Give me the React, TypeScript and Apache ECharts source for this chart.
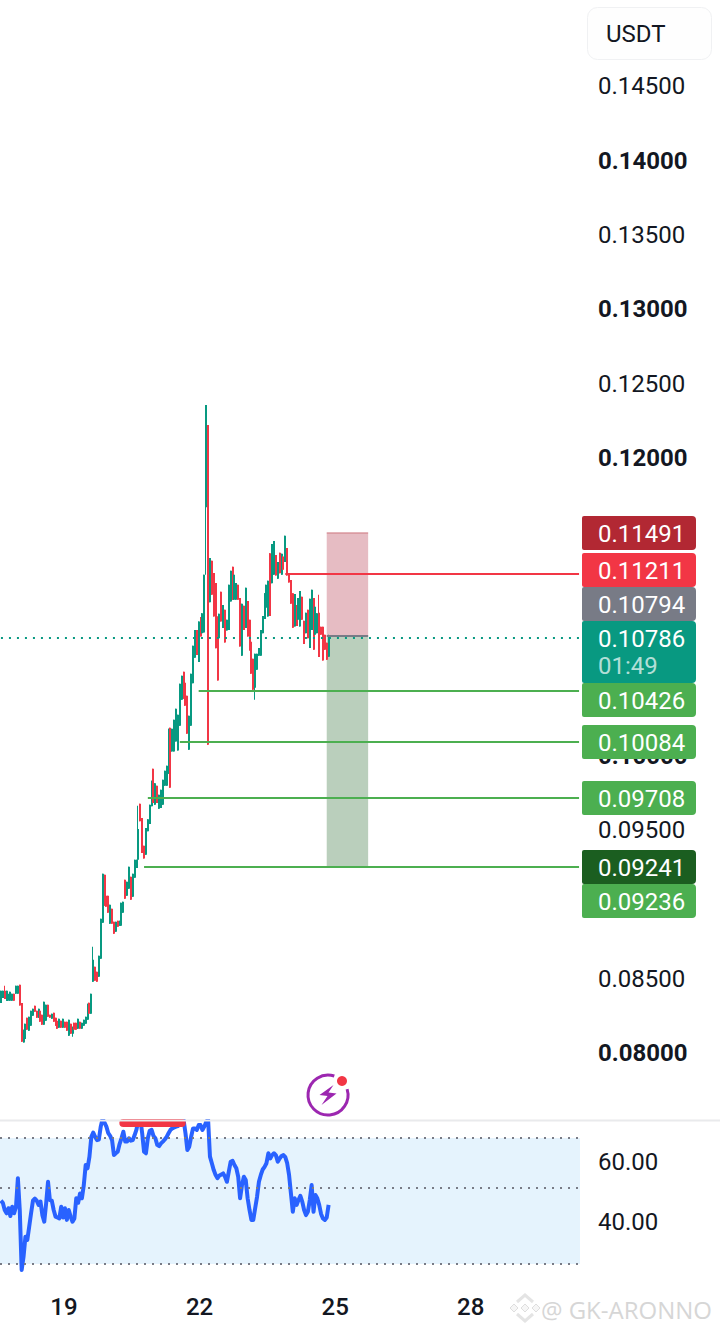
import React, { useEffect, useRef } from "react";
import * as echarts from "echarts";

const TEAL = "#089981";
const RED = "#F23645";
const GREEN = "#4CAF50";
const INK = "#131722";

const slotCount = 308;
const dayLabels: Record<number, string> = { 34: "19", 106: "22", 178: "25", 250: "28" };
const slots = Array.from({ length: slotCount }, (_, i) => String(i));

const candleOpen = [
  0.08336, 0.08369, 0.08419, 0.08351, 0.08351, 0.08351, 0.08351, 0.08398, 0.08398, 0.08398,
  0.08459, 0.08336, 0.08071, 0.08094, 0.08237, 0.0815, 0.08183, 0.08251, 0.08318, 0.08284,
  0.08237, 0.08284, 0.08257, 0.0819, 0.08217, 0.08325, 0.08257, 0.08231, 0.08271, 0.08237,
  0.08217, 0.0817, 0.08217, 0.0817, 0.0821, 0.0821, 0.08116, 0.08197, 0.0813, 0.08204,
  0.08204, 0.08163, 0.0821, 0.08163, 0.08183, 0.08197, 0.08224, 0.08338, 0.08264, 0.08479,
  0.0858, 0.08546, 0.08513, 0.08634, 0.08876, 0.09198, 0.09057, 0.09057, 0.08869, 0.0897,
  0.08882, 0.08815, 0.08889, 0.08855, 0.08855, 0.08943, 0.09165, 0.09057, 0.09104, 0.09185,
  0.0905, 0.09178, 0.09243, 0.09299, 0.09676, 0.09579, 0.09393, 0.09333, 0.0949, 0.09539,
  0.09658, 0.09911, 0.09669, 0.09796, 0.09642, 0.09646, 0.09669, 0.09796, 0.09796, 0.09877,
  0.10186, 0.10027, 0.10027, 0.10094, 0.10034, 0.102, 0.10374, 0.10563, 0.10489, 0.10401,
  0.10038, 0.102, 0.10486, 0.10656, 0.10844, 0.10629, 0.1093, 0.10822, 0.10826, 0.11669,
  0.12222, 0.1103, 0.11308, 0.11227, 0.1116, 0.10934, 0.10788, 0.111, 0.10856, 0.10979,
  0.1084, 0.10844, 0.11035, 0.11268, 0.11046, 0.11046, 0.11147, 0.11059, 0.1067, 0.11006,
  0.10856, 0.11039, 0.10912, 0.10764, 0.1065, 0.10455, 0.10576, 0.1067, 0.1067, 0.10822,
  0.10918, 0.10992, 0.10934, 0.1136, 0.11158, 0.11214, 0.11348, 0.11187, 0.11362, 0.11214,
  0.11337, 0.11301, 0.11395, 0.11225, 0.1118, 0.11091, 0.10867, 0.11012, 0.10912, 0.10867,
  0.11066, 0.10905, 0.10822, 0.10979, 0.10723, 0.10844, 0.11059, 0.10811, 0.10822, 0.10959,
  0.10865, 0.10865, 0.10811, 0.10757, 0.10663,
];
const candleClose = [
  0.08419, 0.08419, 0.08363, 0.08419, 0.08398, 0.08412, 0.08398, 0.08351, 0.08452, 0.08452,
  0.0832, 0.08076, 0.08157, 0.08197, 0.08157, 0.08244, 0.08284, 0.08298, 0.08278, 0.08237,
  0.08298, 0.0821, 0.0819, 0.08345, 0.08325, 0.08244, 0.08237, 0.08264, 0.0821, 0.08183,
  0.08163, 0.08231, 0.0817, 0.08231, 0.0817, 0.0815, 0.08224, 0.0813, 0.08177, 0.08157,
  0.08157, 0.08231, 0.08163, 0.08204, 0.08224, 0.08244, 0.08331, 0.08264, 0.08398, 0.08627,
  0.08486, 0.08479, 0.08654, 0.08903, 0.09205, 0.0899, 0.08983, 0.08943, 0.08997, 0.08869,
  0.08802, 0.08882, 0.08849, 0.08889, 0.0901, 0.09017, 0.09037, 0.09151, 0.09252, 0.0903,
  0.09205, 0.09299, 0.09299, 0.09505, 0.09557, 0.09344, 0.09308, 0.09512, 0.09572, 0.09669,
  0.0983, 0.0968, 0.09814, 0.0968, 0.09736, 0.0977, 0.09837, 0.09897, 0.09931, 0.1018,
  0.09783, 0.1018, 0.1024, 0.10314, 0.10274, 0.10482, 0.10536, 0.10381, 0.10334, 0.10146,
  0.10267, 0.10549, 0.10737, 0.10844, 0.10676, 0.109, 0.108, 0.10956, 0.11214, 0.12356,
  0.10072, 0.11328, 0.1108, 0.10934, 0.10721, 0.10504, 0.10952, 0.109, 0.11012, 0.10759,
  0.10912, 0.11147, 0.11241, 0.11046, 0.11214, 0.1116, 0.11046, 0.10732, 0.11019, 0.10844,
  0.11127, 0.108, 0.10706, 0.10549, 0.10441, 0.10683, 0.10683, 0.10723, 0.10844, 0.10938,
  0.11091, 0.11147, 0.11174, 0.10938, 0.11422, 0.11442, 0.1121, 0.11301, 0.11225, 0.11355,
  0.11248, 0.11476, 0.1121, 0.11162, 0.11019, 0.10858, 0.11086, 0.10871, 0.11059, 0.11106,
  0.10912, 0.1075, 0.10959, 0.10788, 0.11053, 0.11113, 0.1071, 0.10999, 0.10956, 0.10661,
  0.10811, 0.10638, 0.1071, 0.10643, 0.10786,
];
const highWicks: Record<number, number> = { 2: 0.08452, 49: 0.08714, 73: 0.09662, 169: 0.1108, 174: 0.10811 };
const lowWicks: Record<number, number> = { 38: 0.0811, 109: 0.11214, 135: 0.10374 };
// Correction of the candle readings to the scale given by the price tags.
const readingOffset = 0.00008;

const rsiValues = [
  47.1, 46.4, 44, 42.9, 44.6, 42, 45.1, 42.9, 45.1, 54.6, 44, 24, 28.4, 35.1, 34, 38.4, 42.9, 47.1, 47.8, 47.1,
  45.7, 46.8, 42.3, 40.1, 46.2, 53.4, 47.3, 47.1, 44, 41.8, 41.5, 41.2, 45.1, 41.5, 44.6, 40.7, 44, 41.8, 40.1, 41.2,
  47.9, 46.4, 49.5, 47.9, 52.3, 59, 57.9, 61.8, 68.4, 69.8, 68.4, 67.3, 67.5, 71.8, 74.5, 73.1, 71.8, 69.6, 68.7, 67.3,
  62.3, 62.9, 63.4, 66, 67.9, 70.1, 66.8, 66.8, 67.9, 67.1, 67.3, 69, 70.9, 74.2, 74.5, 69.6, 63.4, 62.9, 67.9, 70.4,
  70.7, 68.7, 67.9, 65.7, 65.3, 66.2, 66.8, 67.5, 68.4, 69.6, 70.7, 71.2, 71.5, 71.8, 72, 72.9, 73.8, 74, 69.6, 64,
  65.1, 68.4, 71.2, 71.2, 70.7, 72.3, 72.3, 70.7, 71.8, 73.4, 74.2, 61.8, 59.6, 57.3, 55.7, 54.6, 55.5, 55.8, 56.2, 55.1,
  53.4, 56.8, 60.1, 60.4, 59, 57.9, 55.1, 47.9, 52.3, 55.1, 54, 47.9, 44, 40.7, 40.7, 44.6, 48.4, 53.4, 55.7, 57.5,
  58.4, 59.6, 62.9, 61.2, 62.3, 62.9, 62.3, 60.1, 61.2, 62, 62.3, 61.6, 59.6, 55.7, 49.5, 43.4, 47.9, 45.7, 47.3, 48.7,
  46.8, 44, 42.3, 43.4, 47.3, 52.3, 43.4, 49, 47.9, 45.7, 42.7, 41.2, 40.7, 41.5, 45.7,
];

const boldPrices = ["0.14000", "0.13000", "0.12000", "0.10000", "0.08000"];
const coveredPrices = ["0.11500", "0.11000", "0.10500", "0.09000"];
const currentPrice = 0.10786;
const entryPrice = 0.10794;
const stopPrice = 0.11491;
const targetPrice = 0.09241;
const rsiBands = [68, 51.3, 26];
const rsiTicks = [40, 60];

const tradeLevels = [
  { price: 0.11211, from: 151, color: RED },
  { price: 0.10426, from: 105, color: GREEN },
  { price: 0.10084, from: 95, color: GREEN },
  { price: 0.09708, from: 78, color: GREEN },
  { price: 0.09241, from: 76, color: GREEN },
];

const tagTexts = ["0.11491", "0.11211", "0.10794", "0.10786", "0.10426", "0.10084", "0.09708", "0.09241", "0.09236"];
const tagFills = ["#B22833", RED, "#787B86", TEAL, GREEN, GREEN, GREEN, "#1B5E20", GREEN];
const tagTops = [516, 553, 587, 621, 683, 725, 781, 850, 884];
const tagHeights = [34, 34, 34, 62, 34, 34, 34, 34, 34];
const countdownText = "01:49";

const FONT = "Roboto, sans-serif";

function buildGraphics() {
  const els: any[] = [];
  tagTexts.forEach((t, i) => {
    els.push({
      type: "rect", z: 100, silent: true,
      shape: { x: 582, y: tagTops[i], width: 114, height: tagHeights[i], r: [2, 4, 4, 2] },
      style: { fill: tagFills[i] },
    });
    els.push({
      type: "text", z: 101, silent: true,
      style: { x: 598, y: tagTops[i] + 18, text: t, fill: "#fff", font: `24px ${FONT}`, verticalAlign: "middle" },
    });
  });
  els.push({
    type: "text", z: 101, silent: true,
    style: { x: 598, y: 666, text: countdownText, fill: "rgba(255,255,255,0.7)", font: `24px ${FONT}`, verticalAlign: "middle" },
  });
  els.push({
    type: "rect", z: 100, silent: true,
    shape: { x: 587.5, y: 7.5, width: 124, height: 52, r: 10 },
    style: { fill: "#FEFEFE", stroke: "#F0F1F3", lineWidth: 1 },
  });
  els.push({
    type: "text", z: 101, silent: true,
    style: { x: 606, y: 34, text: "USDT", fill: INK, font: `24px ${FONT}`, verticalAlign: "middle" },
  });
  els.push({
    type: "line", z: 50, silent: true,
    shape: { x1: 0, y1: 1120.5, x2: 720, y2: 1120.5 },
    style: { stroke: "#E9EAEC", lineWidth: 2 },
  });
  // purple alert button
  els.push({
    type: "arc", z: 60, silent: true,
    shape: { cx: 328, cy: 1095, r: 20, startAngle: -0.3, endAngle: -1.25, clockwise: true },
    style: { stroke: "#9C27B0", fill: "none", lineWidth: 3 },
  });
  els.push({
    type: "polygon", z: 60, silent: true,
    shape: { points: [[333.5, 1085], [319.5, 1095], [327.5, 1096], [321.5, 1105], [336.5, 1093.5], [328.5, 1092.5]] },
    style: { fill: "#9C27B0" },
  });
  els.push({ type: "circle", z: 61, silent: true, shape: { cx: 342, cy: 1081, r: 5 }, style: { fill: RED } });
  // watermark logo
  const logoDiamonds = [[525, 1308, 4], [514, 1308, 4], [536, 1308, 4]];
  logoDiamonds.forEach(([cx, cy, r]) => {
    els.push({
      type: "polygon", z: 70, silent: true,
      shape: { points: [[cx, cy - r], [cx + r, cy], [cx, cy + r], [cx - r, cy]] },
      style: { fill: "#F6F6F6", stroke: "#DEDEDE", lineWidth: 1 },
    });
  });
  const logoChevrons = [
    [[517, 1302], [525, 1295], [533, 1302]],
    [[517, 1314], [525, 1321], [533, 1314]],
  ];
  logoChevrons.forEach((points) => {
    els.push({
      type: "polyline", z: 70, silent: true,
      shape: { points },
      style: { stroke: "#E4E4E4", lineWidth: 3, fill: "none" },
    });
  });
  els.push({
    type: "text", z: 70, silent: true,
    style: { x: 712, y: 1309, text: "@ GK-ARONNO", fill: "#D6D6D6", font: `24px "Open Sans", sans-serif`, align: "right", verticalAlign: "middle" },
  });
  return els;
}

function renderCandle(_params: any, api: any) {
  const i = api.value(0);
  const o = api.value(1);
  const c = api.value(2);
  const fill = c >= o ? TEAL : RED;
  const cx = Math.round(api.coord([i, o])[0]);
  const top = api.coord([i, Math.max(o, c)])[1];
  const bottom = api.coord([i, Math.min(o, c)])[1];
  const hi = api.coord([i, api.value(4)])[1];
  const lo = api.coord([i, api.value(3)])[1];
  return {
    type: "group",
    children: [
      { type: "rect", shape: { x: cx - 1, y: hi, width: 1, height: lo - hi }, style: { fill } },
      { type: "rect", shape: { x: cx - 1, y: top, width: 2, height: Math.max(bottom - top, 1) }, style: { fill } },
    ],
  };
}

function buildOption(): any {
  const candleData = candleOpen.map((o, i) => {
    const c = candleClose[i];
    return [
      i,
      o - readingOffset,
      c - readingOffset,
      (lowWicks[i] ?? Math.min(o, c)) - readingOffset,
      (highWicks[i] ?? Math.max(o, c)) - readingOffset,
    ];
  });
  const lastSlot = slotCount - 1;
  return {
    animation: false,
    grid: [
      { left: 0, width: 580, top: 10.4, height: 1115.8 },
      { left: 0, width: 580, top: 1121, height: 157 },
    ],
    xAxis: [
      { type: "category", gridIndex: 0, data: slots, show: false, boundaryGap: true },
      {
        type: "category", gridIndex: 1, data: slots, boundaryGap: true,
        axisLine: { show: false }, axisTick: { show: false },
        axisLabel: {
          interval: (i: number) => dayLabels[i] !== undefined,
          formatter: (_: string, i: number) => dayLabels[i] ?? "",
          color: INK, fontFamily: "Roboto", fontSize: 24, fontWeight: 500, margin: 17,
          padding: [0, 2, 0, 0],
          hideOverlap: false,
        },
      },
    ],
    yAxis: [
      {
        type: "value", gridIndex: 0, position: "right", min: 0.075, max: 0.15, interval: 0.005,
        scale: true, splitLine: { show: false }, axisLine: { show: false }, axisTick: { show: false },
        axisLabel: {
          margin: 18,
          formatter: (v: number) => {
            if (v < 0.0799 || v > 0.1451) return "";
            const t = v.toFixed(5);
            if (coveredPrices.includes(t)) return "";
            return boldPrices.includes(t) ? `{b|${t}}` : `{r|${t}}`;
          },
          rich: {
            b: { fontFamily: "Roboto", fontSize: 24, fontWeight: 700, color: INK, padding: [3, 0, 0, 0] },
            r: { fontFamily: "Roboto", fontSize: 24, color: INK, padding: [3, 0, 0, 0] },
          },
        },
      },
      {
        type: "value", gridIndex: 1, position: "right", min: 21.33, max: 73.67,
        splitLine: { show: false }, axisLine: { show: false }, axisTick: { show: false },
        axisLabel: {
          margin: 18, customValues: rsiTicks,
          formatter: (v: number) => v.toFixed(2),
          fontFamily: "Roboto", fontSize: 24, color: INK,
        },
      },
    ],
    series: [
      {
        type: "line", xAxisIndex: 0, yAxisIndex: 0, data: [], z: 1, silent: true,
        markArea: {
          silent: true,
          data: [
            [
              { coord: [173, stopPrice], itemStyle: { color: "#E6BCC3" } },
              { coord: [195, entryPrice] },
            ],
            [
              { coord: [173, entryPrice], itemStyle: { color: "#BACFBC" } },
              { coord: [195, targetPrice] },
            ],
          ],
        },
        markLine: {
          silent: true, symbol: "none", label: { show: false },
          data: [
            [
              { coord: [173, entryPrice], lineStyle: { color: "#787B86", width: 2, type: "solid" } },
              { coord: [195, entryPrice] },
            ],
            [
              { coord: [173, stopPrice], lineStyle: { color: "rgba(178,40,51,0.3)", width: 1.5, type: "solid" } },
              { coord: [195, stopPrice] },
            ],
            [
              { coord: [0, currentPrice], lineStyle: { color: TEAL, type: [2, 6], width: 2 } },
              { coord: [lastSlot, currentPrice] },
            ],
          ],
        },
      },
      {
        type: "custom", xAxisIndex: 0, yAxisIndex: 0, z: 3, data: candleData, silent: true,
        renderItem: renderCandle,
        encode: { x: 0, y: [1, 2, 3, 4] },
      },
      {
        type: "line", xAxisIndex: 0, yAxisIndex: 0, data: [], z: 2, silent: true,
        markLine: {
          silent: true, symbol: "none", label: { show: false },
          data: tradeLevels.map((l) => [
            { coord: [l.from, l.price], lineStyle: { color: l.color, width: 2, type: "solid" } },
            { coord: [lastSlot, l.price] },
          ]),
        },
      },
      {
        type: "line", xAxisIndex: 1, yAxisIndex: 1, data: rsiValues, z: 3, silent: true,
        symbol: "none", showSymbol: false,
        lineStyle: { color: "#2962FF", width: 4, join: "round" },
        markArea: {
          silent: true,
          itemStyle: { color: "#E5F3FD" },
          data: [[{ yAxis: rsiBands[0] }, { yAxis: rsiBands[2] }]],
        },
        markLine: {
          silent: true, symbol: "none", label: { show: false },
          lineStyle: { color: "#787B86", type: [2, 6], width: 2 },
          data: rsiBands.map((v) => ({ yAxis: v })),
        },
      },
      {
        type: "line", xAxisIndex: 1, yAxisIndex: 1, z: 4, silent: true, symbol: "none",
        data: [[65, 73], [96, 73]],
        lineStyle: { color: RED, width: 8, cap: "round" },
      },
    ],
    graphic: { elements: buildGraphics() },
  };
}

export default function App() {
  const ref = useRef<HTMLDivElement>(null);
  useEffect(() => {
    const chart = echarts.init(ref.current!, undefined, { renderer: "svg" });
    chart.setOption(buildOption());
    return () => chart.dispose();
  }, []);
  return <div ref={ref} style={{ position: "fixed", left: 0, top: 0, width: 720, height: 1334, background: "#fff" }} />;
}
